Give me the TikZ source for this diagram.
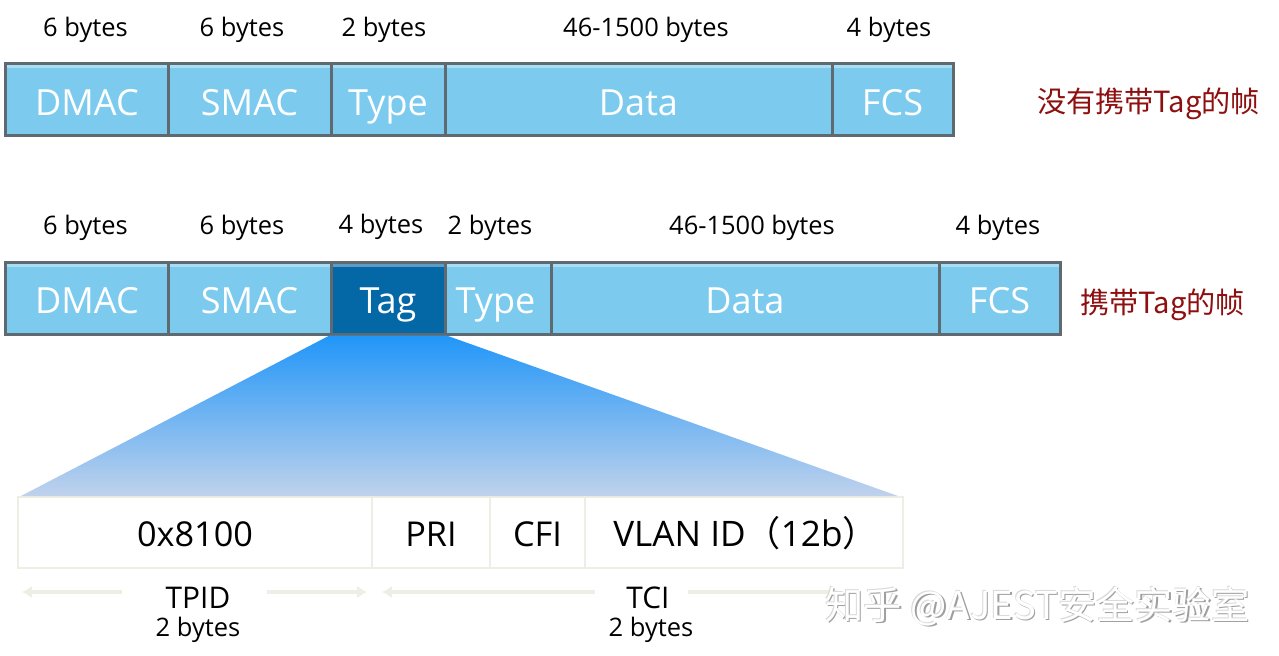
\documentclass[tikz,border=0pt]{standalone}
\usepackage{fontspec}
\setmainfont{Open Sans}
\newfontfamily\cjk{Noto Sans CJK SC}
\usetikzlibrary{arrows.meta}
\definecolor{fieldblue}{HTML}{7CCBEF}
\definecolor{tagblue}{HTML}{0568A6}
\definecolor{fieldedge}{HTML}{5F6A70}
\definecolor{paleedge}{HTML}{EEEEE4}
\definecolor{darkred}{HTML}{8E0F0F}
\definecolor{fadetop}{HTML}{2196F8}
\definecolor{fadebottom}{HTML}{C0D2EC}
\newcommand{\un}{0.02cm}
\tikzset{
  field/.style={draw=fieldedge, line width=3*\un, fill=fieldblue, text=white, font=\fontsize{20.5}{24}\selectfont,
    minimum height=72*\un, inner sep=0pt, text height=35*\un, text depth=4*\un,
    path picture={\draw[white, opacity=0.35, line width=3*\un]
      ([yshift=-3*\un]path picture bounding box.north west) -- ([yshift=-3*\un]path picture bounding box.north east);}},
  tagfield/.style={field, fill=tagblue},
  sub/.style={draw=paleedge, line width=2*\un, fill=white, font=\fontsize{19.5}{23}\selectfont,
    minimum height=71*\un, inner sep=0pt, text height=32*\un, text depth=4*\un},
  size/.style={anchor=base, inner sep=0pt, font=\fontsize{14.5}{16}\selectfont},
  title/.style={anchor=base, inner sep=0pt, font=\cjk\fontsize{16.6}{18}\selectfont, text=darkred},
  span/.style={anchor=base, inner sep=0pt, font=\fontsize{17}{19}\selectfont, text height=32*\un, text depth=10*\un},
  flow/.style={draw=paleedge, line width=4*\un, -{Latex[length=10*\un,width=13*\un]}},
  wmark/.style={anchor=base west, inner sep=0pt, font=\cjk\fontsize{21.8}{24}\selectfont}
}
\begin{document}
\begin{tikzpicture}[x=\un, y=-\un]
  \useasboundingbox (0,0) rectangle (1279,656);

  % Frame without tag
  \node[size] (a1) at (85.5,36) {6 bytes};
  \node[size] (a2) at (242,36) {6 bytes};
  \node[size] (a3) at (384,36) {2 bytes};
  \node[size] (a4) at (646,36) {46-1500 bytes};
  \node[size] (a5) at (889,36) {4 bytes};
  \node[field, minimum width=163*\un] (dmacA) at (87,99.5) {DMAC};
  \node[field, minimum width=163*\un] (smacA) at (249.5,99.5) {SMAC};
  \node[field, minimum width=114*\un] (typeA) at (388,99.5) {Type};
  \node[field, minimum width=387*\un] (dataA) at (638.5,99.5) {Data};
  \node[field, minimum width=121*\un] (fcsA) at (892.5,99.5) {FCS};
  \node[title] (plain) at (1148.5,112) {没有携带Tag的帧};

  % Frame with tag
  \node[size] (b1) at (85.5,234) {6 bytes};
  \node[size] (b2) at (242,234) {6 bytes};
  \node[size] (b3) at (381,233) {4 bytes};
  \node[size] (b4) at (490,234) {2 bytes};
  \node[size] (b5) at (752,234) {46-1500 bytes};
  \node[size] (b6) at (998,234) {4 bytes};
  \node[field, minimum width=163*\un] (dmacB) at (87,298) {DMAC};
  \node[field, minimum width=163*\un] (smacB) at (249.5,298) {SMAC};
  \node[field, minimum width=106*\un] (typeB) at (498,298) {\hspace{-0.1cm}Type};
  \node[field, minimum width=388*\un] (dataB) at (745,298) {Data};
  \node[field, minimum width=121*\un] (fcsB) at (999.5,298) {FCS};
  \node[tagfield, minimum width=114*\un] (tag) at (388,298) {Tag};
  \node[title] (tagged) at (1162.5,313) {携带Tag的帧};

  % Tag fields
  \node[sub, minimum width=354*\un] (tpidF) at (195,532.5) {0x8100};
  \node[sub, minimum width=118*\un] (pri) at (431,532.5) {PRI};
  \node[sub, minimum width=95*\un] (cfi) at (537.5,532.5) {CFI};
  \node[sub, minimum width=318*\un, font=\fontsize{20}{23}\selectfont] (vlan) at (744,532.5) {\hspace{0.06cm}VLAN ID{\cjk（}12b{\cjk）}};

  % Blow-up of the tag
  \shade[top color=fadetop, bottom color=fadebottom]
    (tag.south west) -- (tag.south east) -- ([xshift=-6*\un]vlan.north east) -- ([xshift=4*\un]tpidF.north west) -- cycle;

  % Spans under the fields
  \node[span, minimum width=145*\un] (tpid) at (194.5,608) {\hspace{0.14cm}TPID};
  \node[size] (tpidB) at (198,636) {2 bytes};
  \node[span, minimum width=106*\un] (tci) at (648,608) {TCI};
  \node[size] (tciB) at (651,636) {2 bytes};
  \coordinate (tpidL) at (22,592);
  \coordinate (tpidR) at (367,592);
  \coordinate (tciL) at (382,592);
  \coordinate (tciR) at (840,592);
  \draw[flow] (tpid.west |- tpidL) -- (tpidL);
  \draw[flow] (tpid.east |- tpidR) -- (tpidR);
  \draw[flow] (tci.west |- tciL) -- (tciL);
  \draw[flow, shorten <=-13*\un] (tci.east |- tciR) -- (tciR);

  % Watermark
  \node[wmark, text=gray!75] (markB) at (826.5,620.5) {知乎 @AJEST安全实验室};
  \node[wmark, text=gray!30] (markC) at (824.3,618.3) {知乎 @AJEST安全实验室};
  \node[wmark, text=white] (mark) at (825,619) {知乎 @AJEST安全实验室};
\end{tikzpicture}
\end{document}
